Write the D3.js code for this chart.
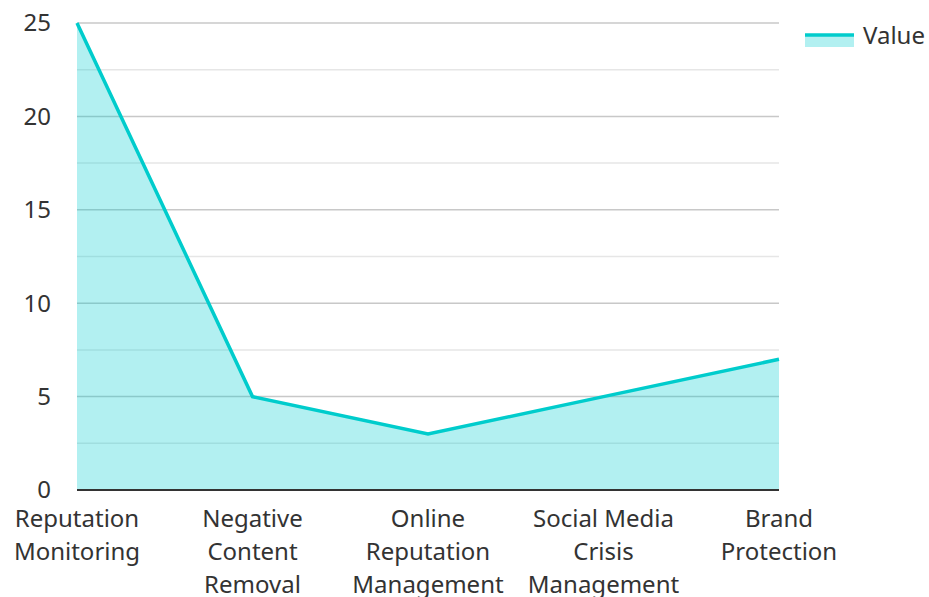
<!DOCTYPE html>
<html>
<head>
<meta charset="utf-8">
<script src="https://cdn.jsdelivr.net/npm/d3@7"></script>
<style>
  body { margin: 0; background: #fff; }
  text { font-family: "Noto Sans", "Open Sans", sans-serif; fill: #333; }
</style>
</head>
<body>
<svg width="929" height="597"></svg>
<script>
const categories = [
  ['Reputation', 'Monitoring'],
  ['Negative', 'Content', 'Removal'],
  ['Online', 'Reputation', 'Management'],
  ['Social Media', 'Crisis', 'Management'],
  ['Brand', 'Protection']
];
const values = [25, 5, 3, 5, 7];
const yTicks = [0, 5, 10, 15, 20, 25];
const yMinor = [2.5, 7.5, 12.5, 17.5, 22.5];

const svg = d3.select('svg');
const plotL = 77, plotR = 779, plotT = 23, plotB = 490;
const fs = '24px';

const x = d3.scalePoint()
  .domain(d3.range(categories.length))
  .range([plotL, plotR]);
const y = d3.scaleLinear().domain([0, 25]).range([plotB, plotT]);

// grid
svg.append('g').selectAll('line')
  .data(yMinor)
  .join('line')
  .attr('x1', plotL).attr('x2', plotR)
  .attr('y1', d => y(d)).attr('y2', d => y(d))
  .attr('stroke', '#e6e6e6').attr('stroke-width', 1.5);

svg.append('g').selectAll('line')
  .data(yTicks.filter(d => d > 0))
  .join('line')
  .attr('x1', plotL).attr('x2', plotR)
  .attr('y1', d => y(d)).attr('y2', d => y(d))
  .attr('stroke', '#c8c8c8').attr('stroke-width', 1.5);

// area + line
const area = d3.area()
  .x((d, i) => x(i))
  .y0(y(0))
  .y1(d => y(d));
svg.append('path')
  .datum(values)
  .attr('d', area)
  .attr('fill', 'rgba(0, 206, 209, 0.3)');

const line = d3.line()
  .x((d, i) => x(i))
  .y(d => y(d));
svg.append('path')
  .datum(values)
  .attr('d', line)
  .attr('fill', 'none')
  .attr('stroke', '#00cccc')
  .attr('stroke-width', 3.5);

// x axis line
svg.append('line')
  .attr('x1', plotL).attr('x2', plotR)
  .attr('y1', plotB).attr('y2', plotB)
  .attr('stroke', '#333').attr('stroke-width', 2);

// y tick labels
svg.append('g').selectAll('text')
  .data(yTicks)
  .join('text')
  .attr('x', 51)
  .attr('y', d => y(d))
  .attr('dy', '0.35em')
  .attr('text-anchor', 'end')
  .style('font-size', fs)
  .text(d => d);

// x labels
const xl = svg.append('g').selectAll('text')
  .data(categories)
  .join('text')
  .attr('text-anchor', 'middle')
  .style('font-size', fs);
xl.each(function (d, i) {
  d3.select(this).selectAll('tspan')
    .data(d)
    .join('tspan')
    .attr('x', x(i))
    .attr('y', (t, j) => 527 + j * 33)
    .text(t => t);
});

// legend
const lg = svg.append('g');
lg.append('rect')
  .attr('x', 805).attr('y', 35).attr('width', 49).attr('height', 12)
  .attr('fill', 'rgba(0, 206, 209, 0.3)');
lg.append('line')
  .attr('x1', 805).attr('x2', 854).attr('y1', 35).attr('y2', 35)
  .attr('stroke', '#00cccc').attr('stroke-width', 3.5);
lg.append('text')
  .attr('x', 863).attr('y', 36).attr('dy', '0.35em')
  .style('font-size', fs)
  .text('Value');
</script>
</body>
</html>
